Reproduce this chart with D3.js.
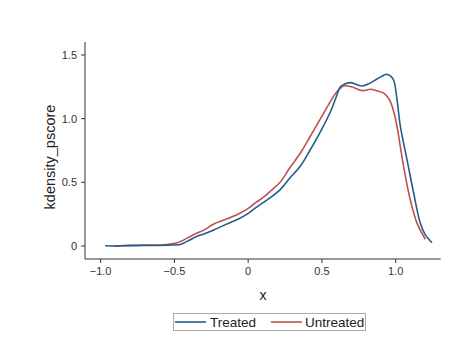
<!DOCTYPE html>
<html><head><meta charset="utf-8">
<script src="https://cdn.jsdelivr.net/npm/d3@7"></script>
<style>body{margin:0;background:#fff}svg{display:block}</style>
</head><body>
<script>
const xTicks = [-1.0, -0.5, 0, 0.5, 1.0];
const xTickLabels = ["\u22121.0", "\u22120.5", "0", "0.5", "1.0"];
const yTicks = [0, 0.5, 1.0, 1.5];
const yTickLabels = ["0", "0.5", "1.0", "1.5"];
const seriesNames = ["Treated", "Untreated"];
const treatedX = [-0.97,-0.9,-0.8,-0.7,-0.6,-0.5,-0.46,-0.4,-0.35,-0.3,-0.233,-0.15,-0.07,-0.007,0.05,0.1,0.15,0.219,0.28,0.354,0.42,0.5,0.56,0.6,0.625,0.65,0.693,0.73,0.772,0.82,0.87,0.91,0.937,0.965,0.987,1.01,1.032,1.077,1.122,1.167,1.2,1.246];
const treatedY = [0.002,0.0,0.003,0.005,0.004,0.008,0.012,0.045,0.075,0.095,0.126,0.17,0.21,0.25,0.30,0.34,0.38,0.445,0.53,0.628,0.754,0.92,1.06,1.18,1.251,1.27,1.283,1.27,1.257,1.275,1.31,1.335,1.349,1.335,1.30,1.14,0.937,0.676,0.414,0.178,0.09,0.026];
const untreatedX = [-0.91,-0.8,-0.7,-0.6,-0.55,-0.48,-0.4,-0.35,-0.3,-0.233,-0.15,-0.07,-0.007,0.05,0.1,0.15,0.219,0.28,0.354,0.42,0.5,0.56,0.6,0.648,0.7,0.772,0.829,0.87,0.919,0.945,0.964,0.99,1.009,1.054,1.099,1.145,1.201];
const untreatedY = [0.0,0.005,0.008,0.008,0.012,0.026,0.07,0.1,0.125,0.173,0.21,0.25,0.29,0.34,0.38,0.43,0.505,0.61,0.73,0.86,1.02,1.14,1.21,1.257,1.25,1.22,1.231,1.22,1.20,1.17,1.134,1.04,0.937,0.623,0.361,0.178,0.053];
const colors = ["#1f5f8b", "#c0504d"];

const W = 474, H = 362;
const svg = d3.select("body").append("svg").attr("width", W).attr("height", H)
  .style("font-family", "Arial, 'Liberation Sans', sans-serif");

const x = d3.scaleLinear().domain([-1.106, 1.305]).range([85, 440.7]);
const y = d3.scaleLinear().domain([-0.102, 1.602]).range([259, 42]);
const axisColor = "#333";

// y axis
svg.append("line").attr("x1", 85).attr("x2", 85).attr("y1", y(1.602)).attr("y2", y(-0.102))
  .attr("stroke", axisColor).attr("stroke-width", 1);
yTicks.forEach((t, i) => {
  svg.append("line").attr("x1", 81).attr("x2", 85).attr("y1", y(t)).attr("y2", y(t)).attr("stroke", axisColor);
  svg.append("text").attr("x", 77).attr("y", y(t)).attr("dy", "0.35em").attr("text-anchor", "end")
    .attr("font-size", 11).attr("fill", "#333").text(yTickLabels[i]);
});
// x axis
svg.append("line").attr("x1", 85).attr("x2", 440.7).attr("y1", 259).attr("y2", 259)
  .attr("stroke", axisColor).attr("stroke-width", 1);
xTicks.forEach((t, i) => {
  svg.append("line").attr("x1", x(t)).attr("x2", x(t)).attr("y1", 259).attr("y2", 263).attr("stroke", axisColor);
  svg.append("text").attr("x", x(t)).attr("y", 275).attr("text-anchor", "middle")
    .attr("font-size", 11).attr("fill", "#333").text(xTickLabels[i]);
});
svg.append("text").attr("x", 263).attr("y", 300).attr("text-anchor", "middle").attr("font-size", 14).attr("fill", "#222").text("x");
svg.append("text").attr("transform", `translate(55,157) rotate(-90)`).attr("text-anchor", "middle")
  .attr("font-size", 14.5).attr("fill", "#222").text("kdensity_pscore");

const line = d3.line().x(d => x(d[0])).y(d => y(d[1])).curve(d3.curveCatmullRom);
const treated = treatedX.map((v, i) => [v, treatedY[i]]);
const untreated = untreatedX.map((v, i) => [v, untreatedY[i]]);
svg.append("path").datum(untreated).attr("d", line).attr("fill", "none").attr("stroke", colors[1]).attr("stroke-width", 1.6);
svg.append("path").datum(treated).attr("d", line).attr("fill", "none").attr("stroke", colors[0]).attr("stroke-width", 1.6);

// legend
const lg = svg.append("g");
lg.append("rect").attr("x", 173.5).attr("y", 313.5).attr("width", 192).attr("height", 17)
  .attr("fill", "#fff").attr("stroke", "#aaa");
const items = [{x: 175, tx: 210}, {x: 271, tx: 305}];
items.forEach((it, i) => {
  lg.append("line").attr("x1", it.x).attr("x2", it.x + 31).attr("y1", 322).attr("y2", 322)
    .attr("stroke", colors[i]).attr("stroke-width", 1.6);
  lg.append("text").attr("x", it.tx).attr("y", 322).attr("dy", "0.35em").attr("font-size", 13.5)
    .attr("fill", "#222").text(seriesNames[i]);
});
</script>
</body></html>
